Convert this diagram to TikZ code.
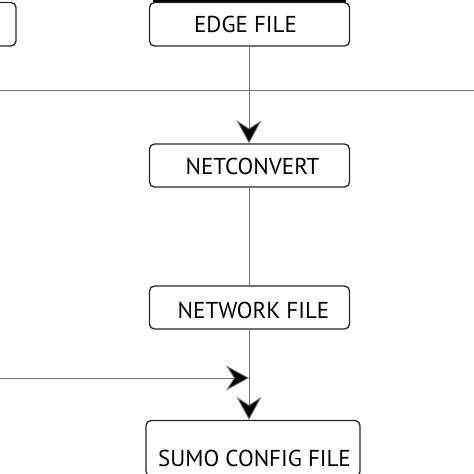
\documentclass[tikz,border=0pt]{standalone}
\usepackage{fontspec}
\setmainfont{PT Sans}
\usetikzlibrary{arrows.meta}
\begin{document}
\begin{tikzpicture}[x=1pt,y=-1pt,
  boxstyle/.style={draw=black!85, line width=1.3pt, rounded corners=5pt, inner sep=0pt},
  lbl/.style={inner sep=0pt, font=\fontsize{23}{25}\selectfont, text=black},
  conn/.style={draw=black!55, line width=0.9pt},
  arr/.style={conn, -{Stealth[length=23pt,width=25pt,inset=8pt,fill=black]}}]
\useasboundingbox (0,0) rectangle (474,474);
\clip (0,0) rectangle (474,474);
% partial box above
\fill[black] (153,-1) rectangle (346,2.3);
% left partial box
\node[boxstyle, minimum width=216pt, minimum height=43.5pt] (leftbox) at (-92,24.2) {};
% boxes
\node[boxstyle, minimum width=200pt, minimum height=43.5pt] (edge) at (249.5,24.3) {};
\node[lbl] (edgetxt) at (245.5,24.5) {EDGE FILE};
\node[boxstyle, minimum width=200pt, minimum height=43pt] (netc) at (249.5,165.5) {};
\node[lbl] (netctxt) at (252.5,166.5) {NETCONVERT};
\node[boxstyle, minimum width=200pt, minimum height=43pt] (netw) at (249.5,307.5) {};
\node[lbl] (netwtxt) at (253.5,310.5) {NETWORK FILE};
\node[boxstyle, minimum width=214pt, minimum height=56pt] (sumo) at (253,448.5) {};
\node[lbl] (sumotxt) at (254.5,458) {SUMO CONFIG FILE};
% horizontal line
\coordinate (hl) at (0,90);
\coordinate (hr) at (474,90);
\draw[conn] (hl) -- (hr);
% vertical connectors
\draw[arr] (edge.south -| 249,0) -- (netc.north -| 249,0);
\draw[conn] (netc.south -| 249,0) -- (netw.north -| 249,0);
\draw[arr] (netw.south -| 249,0) -- (sumo.north -| 249,0);
% left incoming arrow
\coordinate (lin) at (0,378);
\coordinate (join) at (249,378);
\draw[arr] (lin) -- (join);
\end{tikzpicture}
\end{document}
